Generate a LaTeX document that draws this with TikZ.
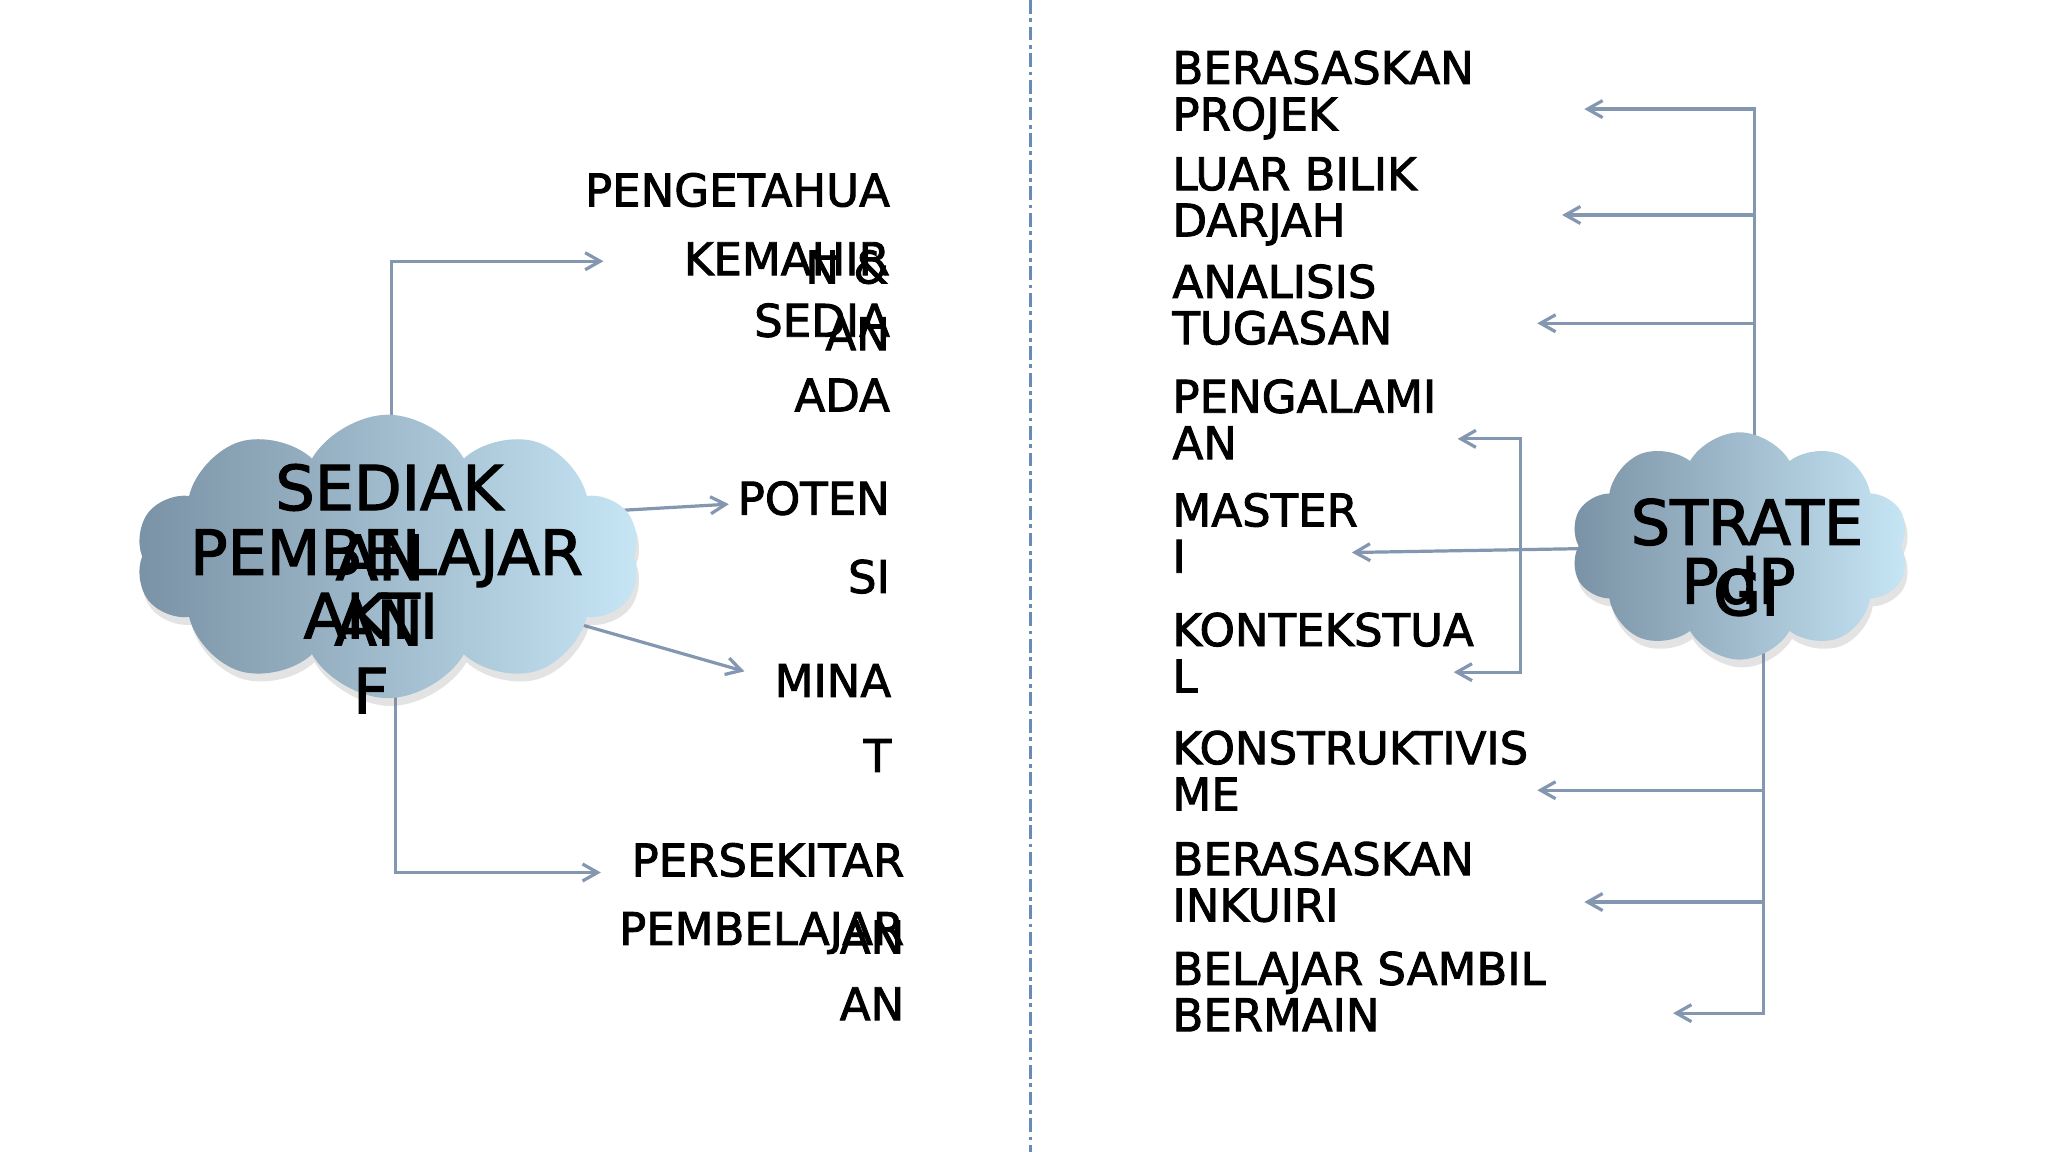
\documentclass[tikz,border=0pt]{standalone}
\usepackage{fontspec}
\setmainfont{DejaVu Sans}[FakeBold=2]
\usetikzlibrary{arrows.meta,shapes.symbols,shadows,backgrounds}

\definecolor{linkgray}{RGB}{132,151,176}
\definecolor{cloudleft}{RGB}{122,146,165}
\definecolor{cloudright}{RGB}{198,229,245}
\definecolor{divblue}{RGB}{104,140,184}

\newcommand{\listfont}{\fontsize{9.8}{10}\selectfont}
\newcommand{\cloudfont}{\fontsize{13.5}{14}\selectfont}

\begin{document}
\begin{tikzpicture}[x=0.1mm,y=-0.1mm,>={Straight Barb[length=1.15mm,width=1.3mm]},
    link/.style={draw=linkgray,line width=0.7pt},
    divider/.style={draw=divblue,line width=0.5pt,dash pattern=on 3pt off 1pt on 0.8pt off 1pt},
    bubble/.style={cloud,cloud puffs=10,cloud puff arc=120,inner sep=0pt,draw=none,
        left color=cloudleft,right color=cloudright,
        drop shadow={opacity=0.22,shadow xshift=0.2mm,shadow yshift=-0.6mm}},
    listtext/.style={font=\listfont,inner sep=0pt},
    cloudtext/.style={font=\cloudfont,inner sep=0pt,anchor=base}]
\useasboundingbox (0,0) rectangle (1568,882);

% the two clouds
\node[bubble,minimum width=38.6mm,minimum height=21.7mm] (sediak) at (297,426) {};
\node[bubble,minimum width=25.9mm,minimum height=17.4mm] (strategi) at (1332,418) {};

\foreach \x/\y/\t/\n in {298/390.5/SEDIAK/sedA, 296/440/PEMBELAJAR/sedB, 291/444/AN/sedC,
    284/488.6/AKTI/sedD, 290/494/AN/sedE, 284/546/F/sedF,
    1337.5/417/STRATE/strA, 1331/462/PdP/strB, 1337/471/GI/strC}
  \node[cloudtext] (\n) at (\x,\y) {\t};

% left list
\foreach \x/\y/\t/\n in {682/158/PENGETAHUA/pengA, 682/210.6/KEMAHIR/pengB, 681/217/{N \&}/pengC,
    682/257.8/SEDIA/pengD, 682/268/AN/pengE, 682/315/ADA/pengF,
    682/394/POTEN/potA, 682/454/SI/potB, 683/533.6/MINA/minA, 683/591/T/minB,
    693/671/PERSEKITAR/perA, 693/723.5/PEMBELAJAR/perB, 693/730/AN/perC, 693/781/AN/perD}
  \node[listtext,anchor=base east] (\n) at (\x,\y) {\t};

% right list
\foreach \y/\a/\b/\n in {64.3/BERASASKAN/PROJEK/projek, 145.5/LUAR BILIK/DARJAH/luar,
    228/ANALISIS/TUGASAN/analisis, 316/PENGALAMI/AN/pengalaman, 403/MASTER/I/masteri,
    494.6/KONTEKSTUA/L/kontekstual, 585/KONSTRUKTIVIS/ME/konstruk,
    670/BERASASKAN/INKUIRI/inkuiri, 754/BELAJAR SAMBIL/BERMAIN/bermain}
{
  \node[listtext,anchor=base west] (\n-1) at (897,\y) {\a};
  \node[listtext,anchor=base west] (\n-2) at (897,\y+35.5) {\b};
}

% arrow ends
\coordinate (tPengetahuan) at (462,200);
\coordinate (tPotensi) at (558,386);
\coordinate (tMinat) at (570,514);
\coordinate (tPersekitaran) at (460,668);
\coordinate (tProjek) at (1213,83.5);
\coordinate (tLuar) at (1196,164.6);
\coordinate (tAnalisis) at (1177,247.5);
\coordinate (tPengalaman) at (1116,336);
\coordinate (tMasteri) at (1035,423);
\coordinate (tKontekstual) at (1113,514.6);
\coordinate (tKonstruk) at (1177,605);
\coordinate (tInkuiri) at (1213,690.6);
\coordinate (tBermain) at (1281,775.7);
\coordinate (upTrunk) at ([xshift=1.1mm]strategi.center);
\coordinate (lowTrunk) at ([xshift=1.8mm]strategi.center);
\coordinate (bracket) at (1164,336);

\begin{pgfonlayer}{background}
\fill[white] (0,0) rectangle (1568,882);
\draw[divider] (789,0) -- (789,882);
% left cloud
\draw[link,->] ([xshift=0.3mm]sediak.center) |- (tPengetahuan);
\draw[link,->] ([yshift=2.5mm]sediak.center) -- (tPotensi);
\draw[link,->] ([yshift=-1mm]sediak.center) -- (tMinat);
\draw[link,->] ([xshift=0.6mm]sediak.center) |- (tPersekitaran);
% right cloud
\draw[link,->] (upTrunk) |- (tProjek);
\foreach \t in {tLuar,tAnalisis}
  \draw[link,->] (upTrunk |- \t) -- (\t);
\draw[link,->] (lowTrunk) |- (tBermain);
\foreach \t in {tKonstruk,tInkuiri}
  \draw[link,->] (lowTrunk |- \t) -- (\t);
\draw[link,->] (strategi.center) -- (tMasteri);
\draw[link,<->] (tPengalaman) -- (bracket) |- (tKontekstual);
\end{pgfonlayer}
\end{tikzpicture}
\end{document}
